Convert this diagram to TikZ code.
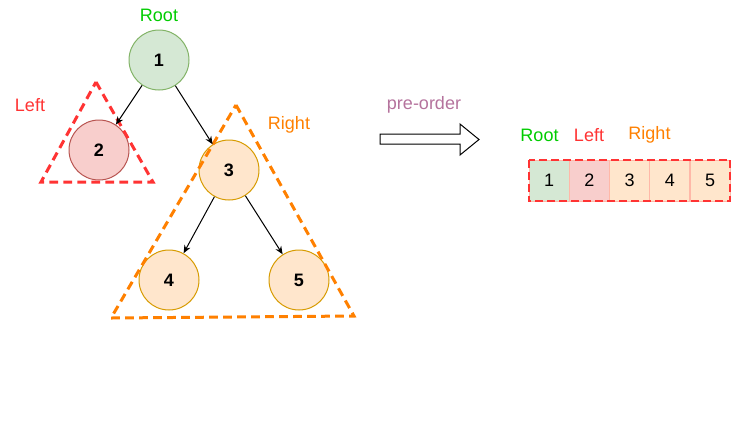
\documentclass[tikz,border=0pt]{standalone}
\usepackage{fontspec}
\setmainfont{Liberation Sans}
\usetikzlibrary{arrows.meta}
\definecolor{gfill}{HTML}{D5E8D4}
\definecolor{gline}{HTML}{82B366}
\definecolor{rfill}{HTML}{F8CECC}
\definecolor{rline}{HTML}{B85450}
\definecolor{ofill}{HTML}{FFE6CC}
\definecolor{oline}{HTML}{D79B00}
\definecolor{cgreen}{HTML}{00CC00}
\definecolor{cred}{HTML}{FF3333}
\definecolor{corange}{HTML}{FF8000}
\definecolor{cpurple}{HTML}{B5739D}
\definecolor{csep}{HTML}{FFB8A8}
\tikzset{
  tnode/.style={circle, minimum size=45pt, inner sep=0pt, line width=0.75pt, font=\fontsize{13.5}{16}\selectfont\bfseries},
  lbl/.style={font=\fontsize{13.5}{16}\selectfont, inner sep=0pt},
  edge/.style={-{Stealth[length=6pt,width=5pt,inset=2pt]}, line width=0.75pt},
  tri/.style={dash pattern=on 6.5pt off 4pt, line width=2.25pt},
  cell/.style={minimum width=30pt, minimum height=30.5pt, inner sep=0pt, draw=csep, line width=0.5pt, font=\fontsize{13.5}{16}\selectfont}
}
\begin{document}
\begin{tikzpicture}[x=0.75pt,y=-0.75pt]
\useasboundingbox (0,0) rectangle (731,426);
% nodes
\node[tnode, fill=gfill, draw=gline] (n1) at (159,60) {1};
\node[tnode, fill=rfill, draw=rline] (n2) at (99,150) {2};
\node[tnode, fill=ofill, draw=oline] (n3) at (229,170) {3};
\node[tnode, fill=ofill, draw=oline] (n4) at (169,280) {4};
\node[tnode, fill=ofill, draw=oline] (n5) at (299,280) {5};
% triangles (on top of nodes)
\draw[tri, cred] (96,82) -- (153,182) -- (41,182) -- cycle;
\draw[tri, corange] (236,105) -- (354,316) -- (111,318) -- cycle;
% edges
\draw[edge] (n1) -- (n2);
\draw[edge] (n1) -- (n3);
\draw[edge] (n3) -- (n4);
\draw[edge] (n3) -- (n5);
% labels
\node[lbl, text=cgreen] (lroot) at (159,15) {Root};
\node[lbl, text=cred] (lleft) at (30,105) {Left};
\node[lbl, text=corange] (lright) at (289,125) {Right};
\node[lbl, text=cpurple] (lpre) at (424,105) {pre-order};
% hollow arrow
\draw[line width=0.75pt, fill=white] (380,134) -- (460,134) -- (460,124) -- (479,139.5) -- (460,155) -- (460,144) -- (380,144) -- cycle;
% array labels
\node[lbl, text=cgreen] (aroot) at (539.5,135) {Root};
\node[lbl, text=cred] (aleft) at (589,135) {Left};
\node[lbl, text=corange] (aright) at (649.5,135) {Right};
% array
\node[cell, fill=gfill] (c1) at (549,180.5) {1};
\node[cell, fill=rfill] (c2) at (589.25,180.5) {2};
\node[cell, fill=ofill] (c3) at (629.5,180.5) {3};
\node[cell, fill=ofill] (c4) at (669.75,180.5) {4};
\node[cell, fill=ofill] (c5) at (710,180.5) {5};
\draw[cred, line width=1.5pt, dash pattern=on 6pt off 3pt] (c1.north west) rectangle (c5.south east);
\end{tikzpicture}
\end{document}
